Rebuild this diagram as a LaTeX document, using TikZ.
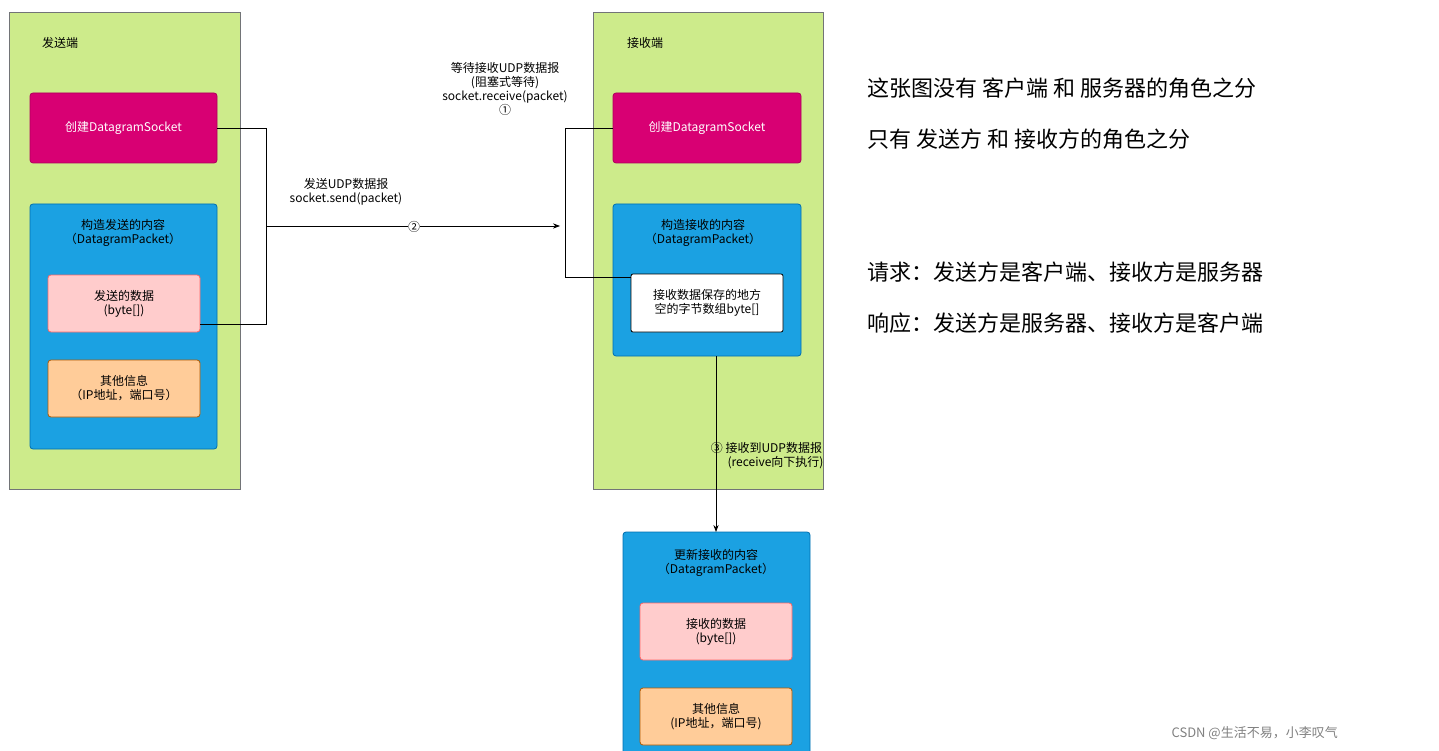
\documentclass[tikz,border=0pt]{standalone}
\usepackage{fontspec}
\setmainfont{Noto Sans CJK SC}
\usetikzlibrary{arrows.meta}
\definecolor{gfill}{HTML}{CDEB8B}\definecolor{gline}{HTML}{36393D}
\definecolor{mag}{HTML}{D80073}\definecolor{blu}{HTML}{1BA1E2}\definecolor{bline}{HTML}{006EAF}
\definecolor{pk}{HTML}{FFCCCC}\definecolor{org}{HTML}{FFCC99}
\begin{document}
\begin{tikzpicture}[x=1pt,y=-1pt,
 box/.style={draw,line width=0.8pt,rounded corners=3pt,align=center,font=\fontsize{12}{14}\selectfont},
 grn/.style={draw=gline!70,fill=gfill,line width=0.8pt},
 lab/.style={align=center,font=\fontsize{12}{14}\selectfont},
 big/.style={anchor=west,font=\fontsize{22}{26}\selectfont},
 con/.style={line width=0.8pt}]
\useasboundingbox (0,0) rectangle (1439,751);
\draw[grn] (9,12) rectangle (240,489);
\node[lab] (ls) at (60,43) {发送端};
\draw[box,draw=mag!80!black,fill=mag,text=white] (30,93) rectangle (217,163) node[midway] (lc) {创建DatagramSocket};
\coordinate (lcr) at (217,128);
\draw[box,draw=bline,fill=blu] (30,204) rectangle (217,449);
\node[lab] (lb) at (123,233) {构造发送的内容\\（DatagramPacket）};
\draw[box,draw=red!60,fill=pk] (48,275) rectangle (200,332) node[midway] (ld) {发送的数据\\(byte[])};
\coordinate (ldr) at (200,324);
\draw[box,draw=orange!70!black,fill=org] (48,360) rectangle (200,417) node[midway] (lo) {其他信息\\（IP地址，端口号）};

\draw[grn] (593,12) rectangle (823,489);
\node[lab] (rs) at (645,43) {接收端};
\draw[box,draw=mag!80!black,fill=mag,text=white] (613,93) rectangle (801,163) node[midway] (rc) {创建DatagramSocket};
\coordinate (rcl) at (613,128);
\draw[box,draw=bline,fill=blu] (613,204) rectangle (801,356) node[midway] (rb0) {};
\node[lab] (rb) at (703,233) {构造接收的内容\\（DatagramPacket）};
\draw[draw=black,line width=0.8pt,rounded corners=2pt,fill=white] (631,274) rectangle (783,332) node[midway,lab] (rw) {接收数据保存的地方\\空的字节数组byte[]};
\coordinate (rwl) at (631,277);
\coordinate (rbb) at (716,356);

\draw[box,draw=bline,fill=blu] (623,532) rectangle (810,760);
\coordinate (ubt) at (716,532);
\node[lab] (ub) at (716,563) {更新接收的内容\\（DatagramPacket）};
\draw[box,draw=red!60,fill=pk] (640,603) rectangle (792,660) node[midway] (ud) {接收的数据\\(byte[])};
\draw[box,draw=orange!70!black,fill=org] (640,688) rectangle (792,745) node[midway] (uo) {其他信息\\(IP地址，端口号)};

\coordinate (s1) at (266,128); \coordinate (s2) at (266,324); \coordinate (s3) at (266,226);
\coordinate (t) at (560,226);
\draw[con] (lcr) -- (s1) -- (s2) -- (ldr);
\draw[con,-{Stealth[length=7pt]}] (s3) -- (t);
\node[lab] (sl) at (346,192) {发送UDP数据报\\socket.send(packet)};
\node[lab,fill=white,inner sep=0pt] (c2) at (414,227) {②};
\coordinate (r1) at (565,128); \coordinate (r2) at (565,277);
\draw[con] (rcl) -- (r1) -- (r2) -- (rwl);
\node[lab] (wl) at (505,89) {等待接收UDP数据报\\(阻塞式等待)\\socket.receive(packet)\\①};
\draw[con,-{Stealth[length=7pt]}] (rbb) -- (ubt);
\node[lab,anchor=west] (l3) at (706,456) {③ 接收到UDP数据报\\\hspace*{1.5em}(receive向下执行)};

\node[big] (t1) at (864,88) {这张图没有 客户端 和 服务器的角色之分};
\node[big] (t2) at (864,139) {只有 发送方 和 接收方的角色之分};
\node[big] (t3) at (864,272) {请求：发送方是客户端、接收方是服务器};
\node[big] (t4) at (864,323) {响应：发送方是服务器、接收方是客户端};
\node[anchor=west,text=gray,font=\fontsize{13}{15}\selectfont] (wm) at (1168,733) {CSDN @生活不易，小李叹气};
\end{tikzpicture}
\end{document}
